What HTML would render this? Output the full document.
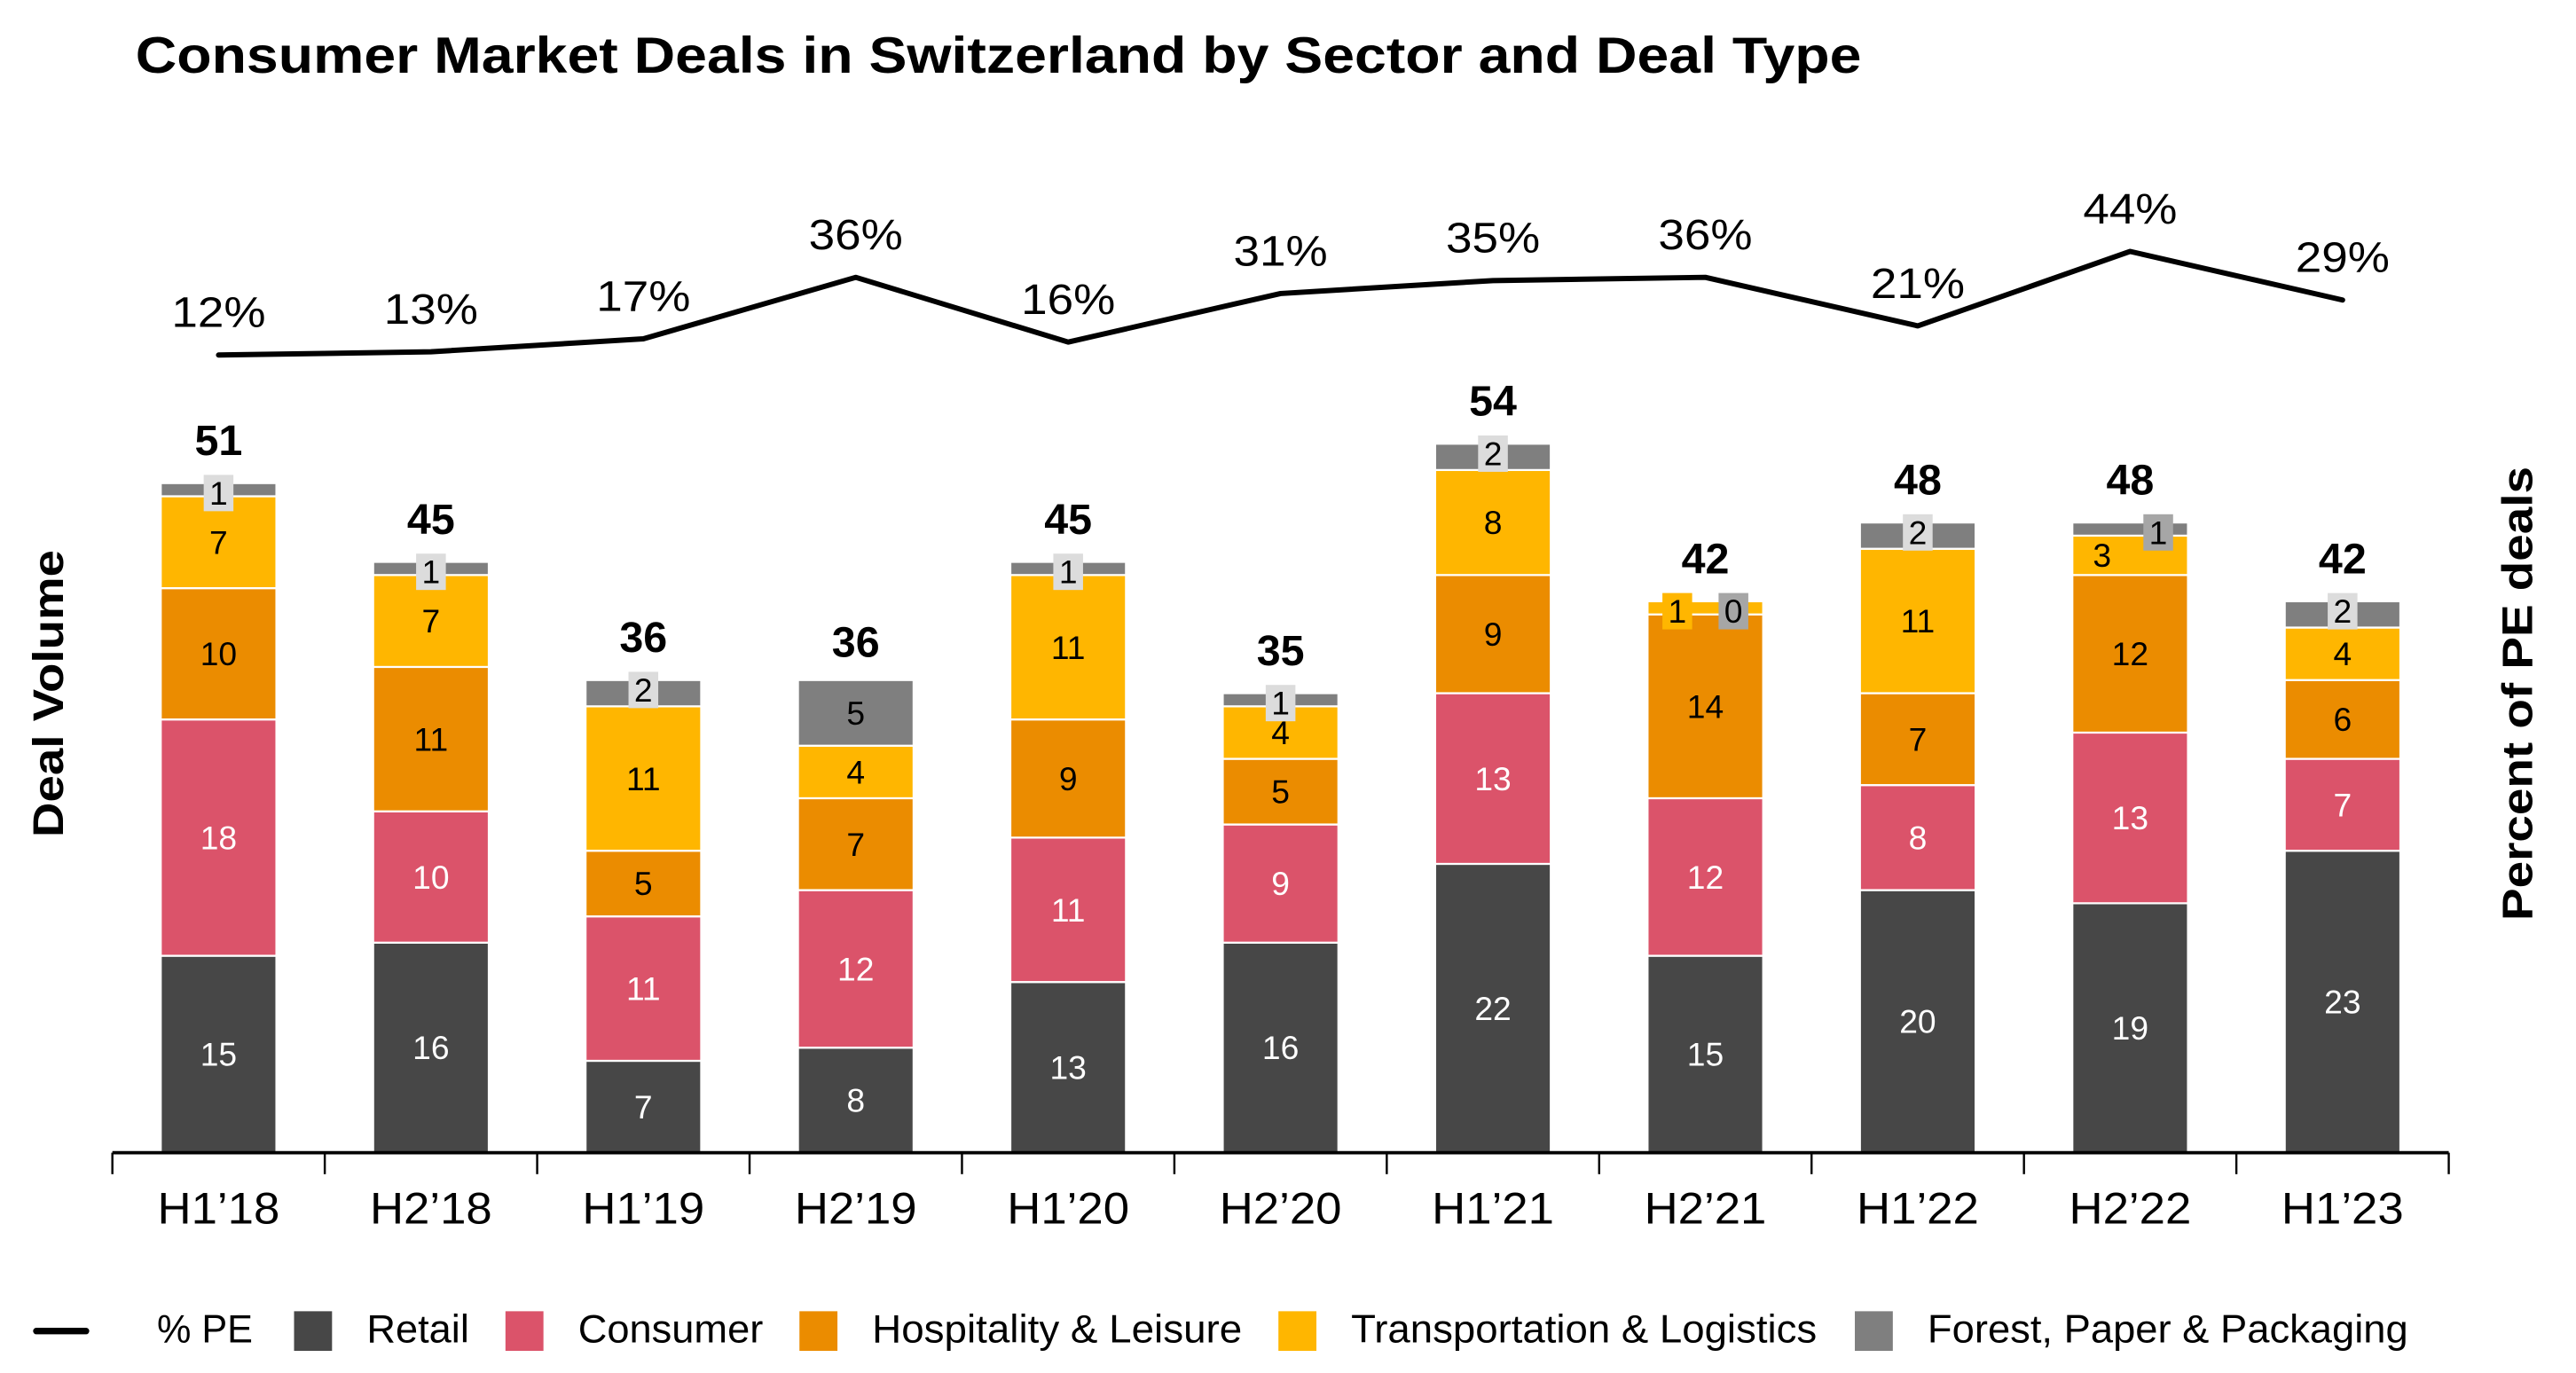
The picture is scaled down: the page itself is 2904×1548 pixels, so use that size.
<!DOCTYPE html>
<html><head><meta charset="utf-8"><style>
html,body{margin:0;padding:0;background:#fff}
svg{display:block;font-family:"Liberation Sans",Arial,sans-serif}
</style></head><body>
<svg width="2904" height="1548" viewBox="0 0 1559.6 831.4" xmlns="http://www.w3.org/2000/svg">
<text x="82" y="44" font-size="31" font-weight="bold" textLength="1045" lengthAdjust="spacingAndGlyphs">Consumer Market Deals in Switzerland by Sector and Deal Type</text>
<text transform="translate(38,420) rotate(-90)" text-anchor="middle" font-size="26" font-weight="bold" textLength="174" lengthAdjust="spacingAndGlyphs">Deal Volume</text>
<text transform="translate(1533,420) rotate(-90)" text-anchor="middle" font-size="26" font-weight="bold" textLength="275" lengthAdjust="spacingAndGlyphs">Percent of PE deals</text>
<g id="bars"></g>
<g id="axis"></g>
<g id="line"></g>
<g>
<line x1="22" y1="806" x2="52" y2="806" stroke="#000" stroke-width="4" stroke-linecap="round"/>
<text x="95" y="813" font-size="24" textLength="58" lengthAdjust="spacingAndGlyphs">% PE</text>
<rect x="178" y="794" width="23" height="24" fill="#474747"/>
<text x="222" y="813" font-size="24" textLength="62" lengthAdjust="spacingAndGlyphs">Retail</text>
<rect x="306" y="794" width="23" height="24" fill="#db536a"/>
<text x="350" y="813" font-size="24" textLength="112" lengthAdjust="spacingAndGlyphs">Consumer</text>
<rect x="484" y="794" width="23" height="24" fill="#eb8c00"/>
<text x="528" y="813" font-size="24" textLength="224" lengthAdjust="spacingAndGlyphs">Hospitality &amp; Leisure</text>
<rect x="774" y="794" width="23" height="24" fill="#ffb600"/>
<text x="818" y="813" font-size="24" textLength="282" lengthAdjust="spacingAndGlyphs">Transportation &amp; Logistics</text>
<rect x="1123" y="794" width="23" height="24" fill="#7f7f7f"/>
<text x="1167" y="813" font-size="24" textLength="291" lengthAdjust="spacingAndGlyphs">Forest, Paper &amp; Packaging</text>
</g>
</svg>
<script>
const categories = ["H1\u201918","H2\u201918","H1\u201919","H2\u201919","H1\u201920","H2\u201920","H1\u201921","H2\u201921","H1\u201922","H2\u201922","H1\u201923"];
const retail = [15,16,7,8,13,16,22,15,20,19,23];
const consumer = [18,10,11,12,11,9,13,12,8,13,7];
const hospitality = [10,11,5,7,9,5,9,14,7,12,6];
const transport = [7,7,11,4,11,4,8,1,11,3,4];
const forest = [1,1,2,5,1,1,2,0,2,1,2];
const totals = [51,45,36,36,45,35,54,42,48,48,42];
const pePct = [12,13,17,36,16,31,35,36,21,44,29];

const NS = "http://www.w3.org/2000/svg";
const axisY = 698, unit = 7.95, x0 = 68, step = 128.6, barW = 70;
function xc(i){ return x0 + step*(i+0.5); }
function yv(v){ return axisY - v*unit; }
function yp(p){ return 238.5 - p*1.96; }
function mk(tag, attrs, parent){ const e=document.createElementNS(NS,tag); for(const k in attrs) e.setAttribute(k,attrs[k]); parent.appendChild(e); return e; }

const series = [
  {name:"retail", vals:retail, color:"#474747", txt:"#fff"},
  {name:"consumer", vals:consumer, color:"#db536a", txt:"#fff"},
  {name:"hospitality", vals:hospitality, color:"#eb8c00", txt:"#000"},
  {name:"transport", vals:transport, color:"#ffb600", txt:"#000"},
  {name:"forest", vals:forest, color:"#7f7f7f", txt:"#000"}
];
const bars = document.getElementById('bars');
categories.forEach((c,i)=>{
  let cum = 0;
  const cx = xc(i);
  const smallT = transport[i] <= 3 && forest[i] <= 2;
  series.forEach((s,si)=>{
    const v = s.vals[i];
    const yTop = yv(cum+v), yBot = yv(cum);
    const r = mk('rect',{x:cx-barW/2,y:yTop,width:barW,height:Math.max(0,yBot-yTop),fill:s.color,stroke:"#fff","stroke-width":1.2},bars);
    
    
    const mid = (yTop+yBot)/2;
    if (s.name==="forest" && v<=2) {
      const bx = smallT ? cx+17 : cx;
      const g = mk('rect',{x:bx-9,y:yTop-5,width:18,height:22,fill:smallT?"#a6a6a6":"#dcdcdc"},bars);
      
      
      const t = mk('text',{x:bx,y:yTop+13,"text-anchor":"middle","font-size":20,fill:"#000"},bars);
      t.textContent = v;
      
      
    } else if (s.name==="transport" && smallT) {
      const bx = cx-17;
      if (v<=1) {
        const g = mk('rect',{x:bx-9,y:yTop-5,width:18,height:22,fill:"#ffb600"},bars);
        
        
      }
      const t = mk('text',{x:bx,y:(v<=1? yTop+13 : mid+7),"text-anchor":"middle","font-size":20,fill:"#000"},bars);
      t.textContent = v;
      
      
    } else if (v>0) {
      const t = mk('text',{x:cx,y:mid+7,"text-anchor":"middle","font-size":20,fill:s.txt},bars);
      t.textContent = v;
      
      
    }
    cum += v;
  });
  const hasBox = forest[i] <= 2;
  const tt = mk('text',{x:cx,y:yv(totals[i]) - (hasBox?17:14),"text-anchor":"middle","font-size":26,"font-weight":"bold"},bars);
  tt.textContent = totals[i];
  
  
});

const axis = document.getElementById('axis');
const al = mk('line',{x1:x0,y1:axisY,x2:x0+step*categories.length,y2:axisY,stroke:"#000","stroke-width":2},axis);


for (let i=0;i<=categories.length;i++){
  const tk = mk('line',{x1:x0+step*i,y1:axisY,x2:x0+step*i,y2:axisY+13,stroke:"#000","stroke-width":1.3},axis);
  
  
}
categories.forEach((c,i)=>{
  const t = mk('text',{x:xc(i),y:741,"text-anchor":"middle","font-size":27,textLength:74,lengthAdjust:"spacingAndGlyphs"},axis);
  t.textContent = c;
  
  
});

const lg = document.getElementById('line');
const pts = pePct.map((p,i)=>xc(i)+","+yp(p)).join(" ");
const pl = mk('polyline',{points:pts,fill:"none",stroke:"#000","stroke-width":3.2,"stroke-linejoin":"round","stroke-linecap":"round"},lg);


pePct.forEach((p,i)=>{
  const t = mk('text',{x:xc(i),y:yp(p)-17,"text-anchor":"middle","font-size":26,textLength:57,lengthAdjust:"spacingAndGlyphs"},lg);
  t.textContent = p+"%";
  
  
});
</script>
</body></html>
